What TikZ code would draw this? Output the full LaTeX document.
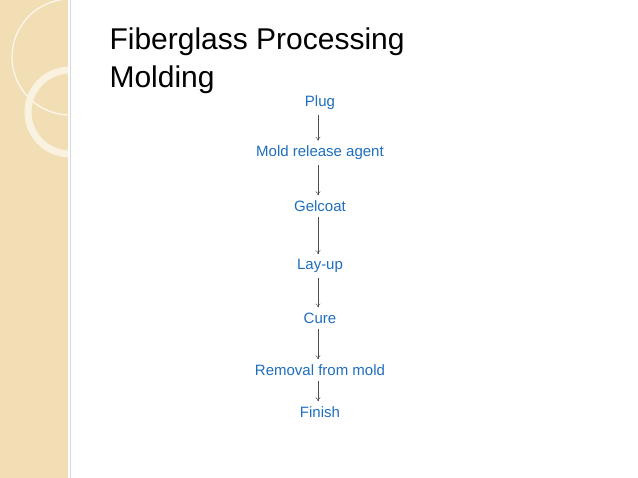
\documentclass[tikz,border=0pt]{standalone}
\usepackage{fontspec}
\setmainfont{Liberation Sans}
\usetikzlibrary{positioning,arrows.meta}
\definecolor{stripbg}{RGB}{242,222,180}
\definecolor{steptext}{RGB}{30,110,190}
\tikzstyle{stage}=[text=steptext,font=\fontsize{15}{18}\selectfont,inner sep=1pt]
\tikzstyle{flow}=[draw=black!70,thin,-{To[length=4pt,width=5pt]}]

\begin{document}
\begin{tikzpicture}[x=1pt,y=-1pt]
% page
  \useasboundingbox (0,0) rectangle (638,478);
  \fill[stripbg] (0,0) rectangle (68,478);
  \draw[black!15,line width=1pt] (70,0) -- (70,478);
  \begin{scope}
    \clip (0,0) rectangle (68,478);
    \draw[white!80!stripbg,line width=1.2pt] (70,57) circle (58);
    \draw[white!60!stripbg,line width=7pt] (70,112) circle (42);
  \end{scope}
% title
  \node[anchor=west,font=\fontsize{30}{34}\selectfont] (t1) at (106,42) {Fiberglass Processing};
  \node[anchor=west,font=\fontsize{30}{34}\selectfont] (t2) at (106,80) {Molding};
% stages
  \node[stage] (plug)    at (320,103) {Plug};
  \node[stage] (release) at (320,153) {Mold release agent};
  \node[stage] (gel)     at (320,206) {Gelcoat};
  \node[stage] (lay)     at (320,266) {Lay-up};
  \node[stage] (cure)    at (320,318) {Cure};
  \node[stage] (removal) at (320,370) {Removal from mold};
  \node[stage] (finish)  at (320,412) {Finish};
% arrows
  \draw[flow] ([xshift=-2pt,yshift=-4pt]plug.south) -- ([xshift=-2pt,yshift=4pt]release.north);
  \draw[flow] ([xshift=-2pt,yshift=-4pt]release.south) -- ([xshift=-2pt,yshift=4pt]gel.north);
  \draw[flow] ([xshift=-2pt,yshift=-4pt]gel.south) -- ([xshift=-2pt,yshift=4pt]lay.north);
  \draw[flow] ([xshift=-2pt,yshift=-4pt]lay.south) -- ([xshift=-2pt,yshift=4pt]cure.north);
  \draw[flow] ([xshift=-2pt,yshift=-4pt]cure.south) -- ([xshift=-2pt,yshift=4pt]removal.north);
  \draw[flow] ([xshift=-2pt,yshift=-4pt]removal.south) -- ([xshift=-2pt,yshift=4pt]finish.north);
\end{tikzpicture}
\end{document}
